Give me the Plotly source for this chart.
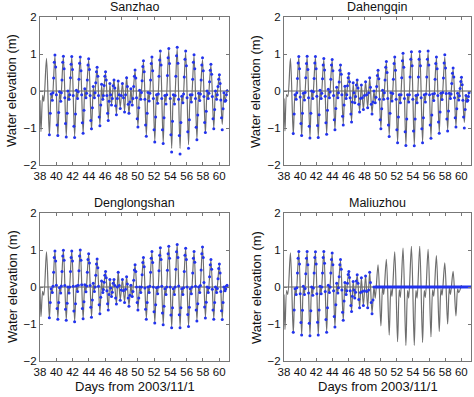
import plotly.graph_objects as go

# ---------------- data ----------------
STATIONS = ["Sanzhao", "Dahengqin", "Denglongshan", "Maliuzhou"]
X_TICKS = [38, 40, 42, 44, 46, 48, 50, 52, 54, 56, 58, 60]
Y_TICKS = [-2, -1, 0, 1, 2]

# times of the simulated curve's turning points (days from 2003/11/1)
MODEL_DAYS = [
    38.00, 38.12, 38.33, 38.47, 38.80,
    39.15, 39.37, 39.51, 39.835,
    40.19, 40.40, 40.54, 40.87,
    41.22, 41.43, 41.57, 41.90,
    42.25, 42.47, 42.61, 42.94,
    43.29, 43.50, 43.64, 43.975,
    44.32, 44.54, 44.68, 45.01,
    45.35, 45.56, 45.71, 46.045,
    46.38, 46.58, 46.78, 47.08,
    47.38, 47.60, 47.85, 48.12,
    48.38, 48.63, 48.92, 49.16,
    49.32, 49.67,
    50.02, 50.23, 50.37, 50.70,
    51.05, 51.26, 51.40, 51.74,
    52.09, 52.30, 52.44, 52.77,
    53.12, 53.33, 53.47, 53.81,
    54.16, 54.37, 54.51, 54.84,
    55.19, 55.40, 55.54, 55.88,
    56.23, 56.44, 56.58, 56.91,
    57.26, 57.47, 57.61, 57.95,
    58.30, 58.51, 58.65, 58.98,
    59.33, 59.54, 59.68, 60.02,
    60.37, 60.58, 60.72, 61.00,
]

SANZHAO_MODEL = [
    -0.25, -1.10, -0.12, -0.28, 0.88,
    -1.20, -0.05, -0.22, 0.95,
    -1.22, -0.05, -0.25, 0.93,
    -1.22, -0.02, -0.25, 0.92,
    -1.22, 0.00, -0.22, 0.90,
    -1.15, 0.05, -0.20, 0.85,
    -1.05, 0.10, -0.20, 0.62,
    -0.92, 0.15, -0.25, 0.50,
    -0.78, 0.18, -0.35, 0.32,
    -0.62, 0.25, -0.45, 0.22,
    -0.55, 0.38, -0.62, 0.05,
    -0.35, 0.55,
    -0.95, 0.00, -0.20, 0.80,
    -1.20, -0.05, -0.25, 0.90,
    -1.35, -0.08, -0.30, 1.05,
    -1.40, -0.10, -0.30, 1.12,
    -1.55, -0.12, -0.32, 1.15,
    -1.55, -0.12, -0.30, 1.05,
    -1.45, -0.10, -0.28, 0.95,
    -1.30, -0.05, -0.25, 0.85,
    -1.15, 0.00, -0.20, 0.70,
    -1.00, 0.00, -0.20, 0.42,
    -0.90, -0.05, -0.25, 0.05,
]

DAHENGQIN_MODEL = [
    -0.20, -1.08, -0.10, -0.15, 0.88,
    -1.18, -0.08, -0.20, 0.92,
    -1.22, -0.05, -0.22, 0.92,
    -1.25, 0.00, -0.20, 0.92,
    -1.25, 0.00, -0.20, 0.86,
    -1.15, 0.05, -0.18, 0.84,
    -1.05, 0.08, -0.18, 0.68,
    -0.90, 0.12, -0.20, 0.45,
    -0.82, 0.20, -0.30, 0.30,
    -0.55, 0.15, -0.50, 0.25,
    -0.45, 0.35, -0.60, 0.00,
    -0.30, 0.55,
    -1.00, 0.00, -0.20, 0.78,
    -1.20, -0.05, -0.25, 0.90,
    -1.38, -0.08, -0.30, 1.00,
    -1.45, -0.10, -0.30, 1.05,
    -1.45, -0.10, -0.30, 1.05,
    -1.38, -0.10, -0.28, 1.05,
    -1.25, -0.08, -0.25, 0.90,
    -1.12, -0.05, -0.22, 0.92,
    -1.05, -0.05, -0.20, 0.60,
    -0.95, -0.05, -0.22, 0.35,
    -0.85, -0.10, -0.25, 0.00,
]

DENGLONGSHAN_MODEL = [
    0.00, -0.80, -0.12, -0.22, 0.95,
    -0.85, -0.05, -0.15, 0.98,
    -0.85, -0.02, -0.15, 1.00,
    -0.88, 0.00, -0.15, 0.98,
    -0.92, 0.02, -0.12, 1.00,
    -0.85, 0.05, -0.12, 0.90,
    -0.80, 0.10, -0.12, 0.75,
    -0.70, 0.15, -0.15, 0.40,
    -0.60, 0.20, -0.25, 0.20,
    -0.45, 0.42, -0.35, 0.20,
    -0.40, 0.28, -0.50, 0.05,
    -0.25, 0.60,
    -0.60, 0.00, -0.15, 0.80,
    -0.85, 0.00, -0.15, 0.95,
    -0.95, -0.02, -0.18, 1.05,
    -1.00, -0.05, -0.20, 1.10,
    -1.08, -0.05, -0.20, 1.15,
    -1.08, -0.05, -0.20, 1.05,
    -1.05, -0.05, -0.18, 0.95,
    -0.90, 0.00, -0.15, 1.08,
    -0.82, 0.00, -0.15, 0.72,
    -0.85, 0.00, -0.15, 0.60,
    -0.85, 0.00, -0.10, 0.05,
]

MALIUZHOU_MODEL = [
    -0.20, -1.15, -0.10, -0.20, 0.92,
    -1.25, -0.05, -0.20, 0.95,
    -1.30, 0.00, -0.20, 0.95,
    -1.30, 0.00, -0.20, 0.95,
    -1.30, 0.02, -0.18, 0.95,
    -1.20, 0.05, -0.15, 0.90,
    -1.08, 0.10, -0.15, 0.72,
    -0.90, 0.12, -0.20, 0.42,
    -0.65, 0.15, -0.30, 0.32,
    -0.55, 0.25, -0.50, 0.30,
    -0.55, 0.40, -0.70, 0.00,
    -0.30, 0.60,
    -1.05, 0.00, -0.20, 0.75,
    -1.30, -0.05, -0.25, 0.95,
    -1.48, -0.08, -0.28, 1.05,
    -1.58, -0.10, -0.30, 1.10,
    -1.58, -0.10, -0.30, 1.10,
    -1.50, -0.10, -0.28, 1.02,
    -1.35, -0.08, -0.25, 0.85,
    -1.20, -0.05, -0.22, 0.65,
    -1.00, -0.02, -0.20, 0.42,
    -0.78, -0.05, -0.15, 0.05,
    None, None, None, None,
]

# observation times (days)
OBS_DAYS = [
    39.15, 39.26, 39.37, 39.51, 39.59, 39.67, 39.75, 39.835,
    39.925, 40.01, 40.10, 40.19, 40.29, 40.40, 40.54, 40.62, 40.70, 40.79, 40.87,
    40.96, 41.045, 41.13, 41.22, 41.33, 41.43, 41.57, 41.65, 41.74, 41.82, 41.90,
    41.99, 42.075, 42.16, 42.25, 42.36, 42.47, 42.61, 42.69, 42.78, 42.86, 42.94,
    43.03, 43.115, 43.20, 43.29, 43.395, 43.50, 43.64, 43.72, 43.81, 43.89, 43.975,
    44.065, 44.15, 44.235, 44.32, 44.43, 44.54, 44.68, 44.76, 44.845, 44.93, 45.01,
    45.10, 45.18, 45.265, 45.35, 45.455, 45.56, 45.71, 45.79, 45.875, 45.96, 46.045,
    46.13, 46.21, 46.295, 46.38, 46.48, 46.58, 46.68, 46.78, 46.88, 46.98, 47.08,
    47.18, 47.28, 47.38, 47.49, 47.60, 47.72, 47.85, 47.98, 48.12, 48.25, 48.38,
    48.50, 48.63, 48.725, 48.825, 48.92, 49.04, 49.16,
    49.32, 49.41, 49.50, 49.585, 49.67,
    49.76, 49.845, 49.93, 50.02, 50.125, 50.23, 50.37, 50.45, 50.535, 50.62, 50.70,
    50.79, 50.875, 50.96, 51.05, 51.155, 51.26, 51.40, 51.485, 51.57, 51.655, 51.74,
    51.83, 51.915, 52.00, 52.09, 52.195, 52.30, 52.44, 52.52, 52.605, 52.69, 52.77,
    52.86, 52.945, 53.03, 53.12, 53.225, 53.33, 53.47, 53.555, 53.64, 53.725, 53.81,
    53.90, 53.985, 54.07, 54.16, 54.265, 54.37, 54.51, 54.59, 54.675, 54.76, 54.84,
    54.93, 55.015, 55.10, 55.19, 55.295, 55.40, 55.54, 55.625, 55.71, 55.795, 55.88,
    55.97, 56.055, 56.14, 56.23, 56.335, 56.44, 56.58, 56.66, 56.745, 56.83, 56.91,
    57.00, 57.085, 57.17, 57.26, 57.365, 57.47, 57.61, 57.695, 57.78, 57.865, 57.95,
    58.04, 58.125, 58.21, 58.30, 58.405, 58.51, 58.65, 58.73, 58.815, 58.90, 58.98,
    59.07, 59.155, 59.24, 59.33, 59.435, 59.54, 59.68, 59.765, 59.85, 59.935, 60.02,
    60.11, 60.195, 60.28, 60.37, 60.475, 60.58, 60.72, 60.80, 60.88, 60.96,
]

SANZHAO_OBS = [
    -1.18, -0.60, -0.08, -0.25, -0.05, 0.35, 0.78, 0.97,
    0.65, -0.10, -0.92, -1.20, -0.58, -0.02, -0.28, -0.05, 0.30, 0.78, 0.94,
    0.60, -0.18, -0.88, -1.24, -0.60, 0.00, -0.22, -0.10, 0.36, 0.72, 0.93,
    0.58, -0.12, -0.95, -1.26, -0.62, 0.02, -0.20, -0.02, 0.32, 0.75, 0.92,
    0.55, -0.10, -0.86, -1.14, -0.52, 0.06, -0.18, -0.06, 0.30, 0.70, 0.87,
    0.58, -0.12, -0.80, -1.02, -0.45, 0.12, -0.18, -0.05, 0.22, 0.52, 0.64,
    0.40, -0.12, -0.70, -0.94, -0.38, 0.18, -0.22, -0.12, 0.15, 0.40, 0.52,
    0.30, -0.12, -0.60, -0.80, -0.28, 0.20, -0.10, -0.38, -0.20, 0.14, 0.30,
    0.08, -0.40, -0.64, -0.20, 0.27, -0.10, -0.47, -0.12, 0.20, -0.18, -0.57,
    -0.10, 0.36, 0.12, -0.36, -0.60, -0.30, 0.06,
    -0.38, -0.20, 0.12, 0.40, 0.57,
    0.35, -0.18, -0.75, -0.97, -0.45, 0.02, -0.22, -0.04, 0.28, 0.66, 0.82,
    0.52, -0.22, -0.92, -1.22, -0.60, -0.04, -0.27, -0.06, 0.30, 0.74, 0.92,
    0.55, -0.20, -1.05, -1.38, -0.70, -0.10, -0.33, -0.08, 0.40, 0.84, 1.08,
    0.70, -0.20, -1.05, -1.42, -0.72, -0.12, -0.35, -0.10, 0.42, 0.90, 1.15,
    0.74, -0.20, -1.18, -1.65, -0.82, -0.10, -0.35, -0.12, 0.40, 0.95, 1.18,
    0.75, -0.22, -1.20, -1.70, -0.85, -0.14, -0.32, -0.08, 0.38, 0.86, 1.08,
    0.68, -0.18, -1.10, -1.55, -0.78, -0.10, -0.30, -0.10, 0.32, 0.78, 0.98,
    0.60, -0.20, -0.98, -1.32, -0.65, -0.06, -0.26, -0.08, 0.30, 0.70, 0.90,
    0.55, -0.15, -0.85, -1.12, -0.55, 0.00, -0.20, -0.06, 0.25, 0.56, 0.72,
    0.45, -0.15, -0.75, -1.02, -0.50, 0.00, -0.22, -0.10, 0.12, 0.32, 0.44,
    0.20, -0.24, -0.72, -1.05, -0.48, -0.05, -0.28, -0.25, -0.10, 0.00,
]

DAHENGQIN_OBS = [
    -1.15, -0.62, -0.10, -0.22, -0.05, 0.34, 0.76, 0.93,
    0.60, -0.16, -0.88, -1.20, -0.60, -0.06, -0.24, -0.04, 0.36, 0.74, 0.94,
    0.58, -0.18, -0.95, -1.27, -0.60, 0.00, -0.20, -0.02, 0.34, 0.76, 0.93,
    0.60, -0.14, -0.93, -1.26, -0.64, 0.02, -0.20, -0.06, 0.33, 0.70, 0.88,
    0.57, -0.14, -0.86, -1.17, -0.52, 0.05, -0.18, -0.03, 0.32, 0.70, 0.85,
    0.55, -0.12, -0.78, -1.05, -0.47, 0.10, -0.18, -0.05, 0.24, 0.56, 0.70,
    0.45, -0.10, -0.68, -0.92, -0.38, 0.13, -0.20, -0.10, 0.14, 0.36, 0.47,
    0.25, -0.18, -0.62, -0.84, -0.30, 0.22, -0.05, -0.32, -0.15, 0.16, 0.30,
    0.08, -0.36, -0.57, -0.20, 0.16, -0.18, -0.50, -0.12, 0.25, -0.10, -0.45,
    -0.05, 0.36, 0.10, -0.36, -0.62, -0.30, 0.00,
    -0.32, -0.17, 0.12, 0.42, 0.56,
    0.33, -0.22, -0.78, -1.02, -0.48, 0.02, -0.22, -0.05, 0.30, 0.64, 0.80,
    0.50, -0.20, -0.92, -1.23, -0.60, -0.05, -0.27, -0.07, 0.32, 0.74, 0.92,
    0.56, -0.22, -1.05, -1.40, -0.70, -0.10, -0.32, -0.10, 0.36, 0.82, 1.02,
    0.64, -0.20, -1.10, -1.47, -0.76, -0.10, -0.30, -0.10, 0.38, 0.86, 1.06,
    0.68, -0.22, -1.08, -1.48, -0.76, -0.12, -0.32, -0.10, 0.38, 0.86, 1.07,
    0.68, -0.18, -1.02, -1.40, -0.72, -0.10, -0.30, -0.08, 0.38, 0.86, 1.08,
    0.70, -0.10, -0.92, -1.28, -0.65, -0.08, -0.26, -0.07, 0.32, 0.74, 0.92,
    0.60, -0.12, -0.84, -1.14, -0.57, -0.06, -0.23, -0.04, 0.35, 0.76, 0.98,
    0.62, -0.07, -0.76, -1.08, -0.54, -0.06, -0.20, -0.08, 0.20, 0.48, 0.62,
    0.38, -0.18, -0.72, -0.97, -0.48, -0.06, -0.24, -0.13, 0.07, 0.26, 0.37,
    0.17, -0.25, -0.70, -1.00, -0.50, -0.12, -0.28, -0.25, -0.15, -0.05,
]

DENGLONGSHAN_OBS = [
    -0.83, -0.42, -0.05, -0.15, 0.02, 0.40, 0.80, 0.97,
    0.70, 0.05, -0.58, -0.87, -0.42, -0.02, -0.16, 0.03, 0.42, 0.84, 0.99,
    0.72, 0.04, -0.60, -0.90, -0.44, 0.00, -0.16, 0.00, 0.42, 0.80, 0.97,
    0.70, 0.02, -0.65, -0.94, -0.45, 0.03, -0.12, 0.05, 0.44, 0.84, 1.00,
    0.72, 0.06, -0.58, -0.86, -0.40, 0.06, -0.13, 0.03, 0.40, 0.74, 0.90,
    0.65, 0.04, -0.55, -0.82, -0.35, 0.10, -0.12, 0.00, 0.32, 0.62, 0.76,
    0.52, 0.02, -0.48, -0.72, -0.28, 0.16, -0.15, -0.07, 0.13, 0.32, 0.42,
    0.25, -0.10, -0.45, -0.62, -0.20, 0.20, -0.03, -0.26, -0.14, 0.10, 0.20,
    0.04, -0.30, -0.46, 0.00, 0.40, 0.04, -0.36, -0.08, 0.20, -0.10, -0.42,
    -0.06, 0.28, 0.08, -0.30, -0.52, -0.22, 0.05,
    -0.26, -0.12, 0.18, 0.46, 0.60,
    0.42, 0.00, -0.42, -0.62, -0.30, 0.00, -0.15, 0.00, 0.33, 0.66, 0.80,
    0.55, -0.03, -0.60, -0.87, -0.42, 0.00, -0.15, 0.02, 0.40, 0.78, 0.96,
    0.66, 0.00, -0.67, -0.97, -0.48, -0.02, -0.18, 0.00, 0.44, 0.86, 1.06,
    0.74, 0.02, -0.70, -1.02, -0.52, -0.05, -0.20, 0.00, 0.45, 0.90, 1.10,
    0.78, 0.00, -0.76, -1.10, -0.56, -0.05, -0.20, 0.00, 0.48, 0.95, 1.15,
    0.80, 0.03, -0.75, -1.10, -0.56, -0.05, -0.20, -0.02, 0.42, 0.86, 1.05,
    0.74, 0.00, -0.74, -1.07, -0.55, -0.05, -0.18, 0.00, 0.38, 0.78, 0.96,
    0.67, 0.02, -0.62, -0.92, -0.45, 0.00, -0.15, 0.04, 0.46, 0.90, 1.08,
    0.80, 0.12, -0.54, -0.84, -0.41, 0.00, -0.15, -0.02, 0.28, 0.60, 0.74,
    0.48, -0.06, -0.62, -0.87, -0.42, 0.00, -0.15, -0.04, 0.22, 0.50, 0.62,
    0.38, -0.12, -0.64, -0.88, -0.42, 0.00, -0.10, -0.05, 0.02, 0.05,
]

# Maliuzhou: observations only until about day 49.2
MALIUZHOU_OBS = [
    -1.22, -0.62, -0.05, -0.20, -0.02, 0.38, 0.78, 0.96,
    0.62, -0.18, -0.96, -1.30, -0.63, 0.02, -0.20, -0.04, 0.36, 0.78, 0.96,
    0.60, -0.16, -0.98, -1.32, -0.64, 0.00, -0.22, -0.03, 0.38, 0.80, 0.95,
    0.62, -0.18, -0.95, -1.30, -0.62, 0.02, -0.18, 0.00, 0.38, 0.80, 0.96,
    0.64, -0.12, -0.88, -1.22, -0.56, 0.05, -0.15, 0.00, 0.38, 0.74, 0.92,
    0.60, -0.10, -0.80, -1.08, -0.48, 0.10, -0.16, -0.02, 0.28, 0.60, 0.74,
    0.48, -0.08, -0.68, -0.90, -0.38, 0.12, -0.20, -0.10, 0.10, 0.34, 0.42,
    0.26, -0.10, -0.50, -0.66, -0.25, 0.15, -0.08, -0.30, -0.14, 0.16, 0.33,
    0.10, -0.34, -0.56, -0.15, 0.25, -0.12, -0.50, -0.10, 0.30, -0.12, -0.56,
    -0.08, 0.40, 0.12, -0.42, -0.72, -0.35, 0.00,
]
# gap in the Maliuzhou record plotted as zeros
MALIUZHOU_GAP_DAYS = [49.27, 61.3]
MALIUZHOU_GAP_VALUES = [0.0, 0.0]

MODELS = [SANZHAO_MODEL, DAHENGQIN_MODEL, DENGLONGSHAN_MODEL, MALIUZHOU_MODEL]
OBS = [SANZHAO_OBS, DAHENGQIN_OBS, DENGLONGSHAN_OBS, MALIUZHOU_OBS]

# ---------------- figure ----------------
W, H = 474, 397
FONT = "Liberation Sans, Arial, sans-serif"
X_RANGE = [38, 61.2]

def px_x(p):
    return p / W

def px_y(p):
    return 1 - p / H

# panel boxes in pixels: (left, right, top, bottom)
BOXES = [(40, 229, 17, 165), (284, 471, 17, 165),
         (40, 229, 213, 361), (284, 471, 213, 361)]

fig = go.Figure()
for i, name in enumerate(STATIONS):
    xa = "x" if i == 0 else f"x{i+1}"
    ya = "y" if i == 0 else f"y{i+1}"
    fig.add_trace(go.Scatter(x=X_RANGE, y=[0, 0], mode="lines",
                             line=dict(color="#333333", width=0.8),
                             xaxis=xa, yaxis=ya, showlegend=False, hoverinfo="skip"))
    fig.add_trace(go.Scatter(x=MODEL_DAYS, y=MODELS[i], mode="lines",
                             line=dict(color="#6e6e6e", width=1.2, shape="spline", smoothing=0.9),
                             connectgaps=False,
                             xaxis=xa, yaxis=ya, showlegend=False))
    n = len(OBS[i])
    fig.add_trace(go.Scatter(x=OBS_DAYS[:n], y=OBS[i], mode="markers",
                             marker=dict(color="#2233ee", size=3.0),
                             xaxis=xa, yaxis=ya, showlegend=False))
    if name == "Maliuzhou":
        fig.add_trace(go.Scatter(x=MALIUZHOU_GAP_DAYS, y=MALIUZHOU_GAP_VALUES, mode="lines",
                                 line=dict(color="#2233ee", width=3),
                                 xaxis=xa, yaxis=ya, showlegend=False))

layout = dict(width=W, height=H, margin=dict(l=0, r=0, t=0, b=0, autoexpand=False),
              paper_bgcolor="white", plot_bgcolor="white",
              font=dict(family=FONT, size=11, color="#111111"))
annotations = []
for i, name in enumerate(STATIONS):
    l, r, t, b = BOXES[i]
    sx = "xaxis" if i == 0 else f"xaxis{i+1}"
    sy = "yaxis" if i == 0 else f"yaxis{i+1}"
    layout[sx] = dict(domain=[px_x(l), px_x(r)], range=X_RANGE, tickvals=X_TICKS,
                      anchor="y" if i == 0 else f"y{i+1}", automargin=False,
                      showline=True, linecolor="#777777", linewidth=1, mirror="ticks",
                      ticks="inside", ticklen=3, tickcolor="#777777",
                      showgrid=False, zeroline=False, tickfont=dict(size=11.5))
    layout[sy] = dict(domain=[px_y(b), px_y(t)], range=[-2, 2], tickvals=Y_TICKS,
                      anchor="x" if i == 0 else f"x{i+1}", automargin=False,
                      showline=True, linecolor="#777777", linewidth=1, mirror="ticks",
                      ticks="inside", ticklen=3, tickcolor="#777777",
                      showgrid=False, zeroline=False, tickfont=dict(size=11.5))
    annotations.append(dict(text=name, x=px_x((l + r) / 2), y=px_y(t - 10),
                            xref="paper", yref="paper", showarrow=False,
                            font=dict(size=12.5), xanchor="center", yanchor="middle"))
    annotations.append(dict(text="Water elevation (m)", x=px_x(l - 28), y=px_y((t + b) / 2),
                            xref="paper", yref="paper", showarrow=False, textangle=-90,
                            font=dict(size=13), xanchor="center", yanchor="middle"))
    if i >= 2:
        annotations.append(dict(text="Days from 2003/11/1", x=px_x((l + r) / 2), y=px_y(386),
                                xref="paper", yref="paper", showarrow=False,
                                font=dict(size=13), xanchor="center", yanchor="middle"))
layout["annotations"] = annotations
fig.update_layout(**layout)

fig.write_html("out.html", config={"displayModeBar": False},
               post_script="document.body.style.margin='0';document.body.style.overflow='hidden';")
